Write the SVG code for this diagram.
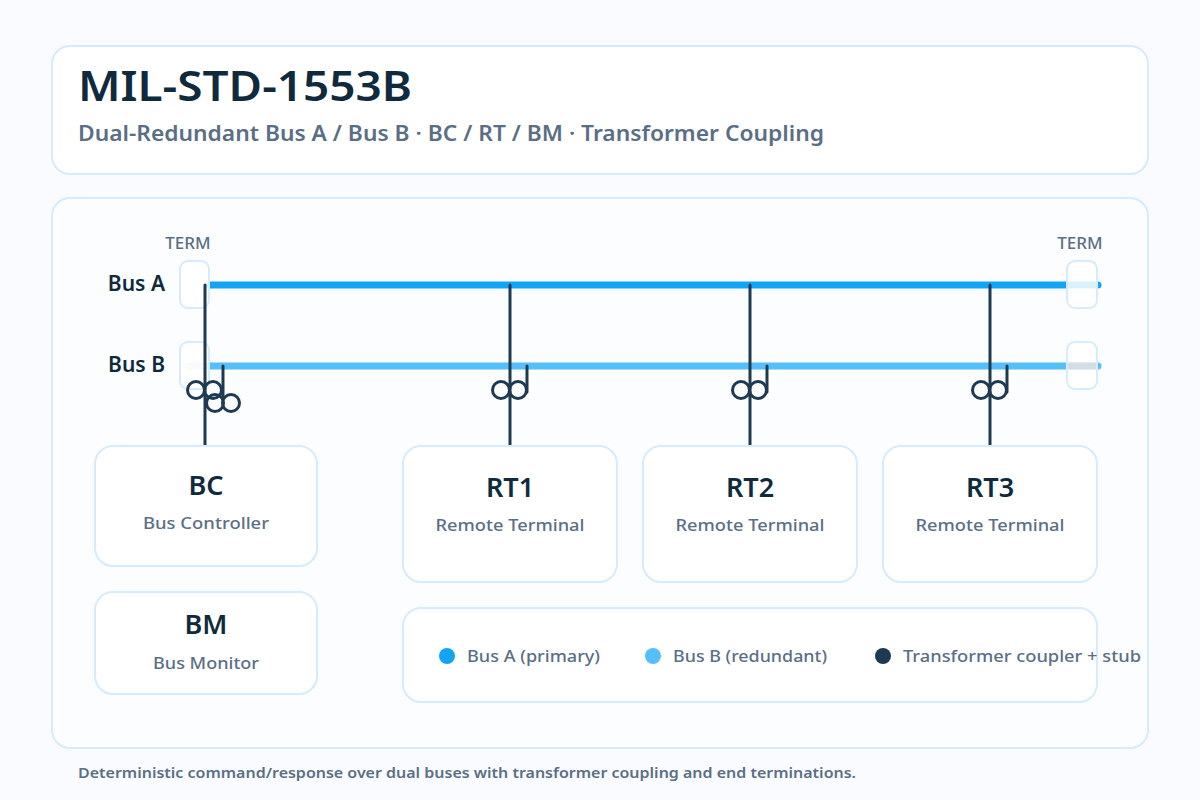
<svg xmlns="http://www.w3.org/2000/svg" width="1200" height="800" viewBox="0 0 1200 800">
<style>
.card{fill:#ffffff;stroke:#d6ebfb;stroke-width:2}
.t{font-family:"Noto Sans","Open Sans",sans-serif}
.nt{font-size:27px;font-weight:600;fill:#0f2a3d;text-anchor:middle}
.ns{font-size:17px;font-weight:500;fill:#5a6f86;text-anchor:middle}
.stub{stroke:#1e3a52;stroke-width:3;stroke-linecap:round;fill:none}
.term{fill:#ffffff;fill-opacity:0.85;stroke:#d6ebfb;stroke-width:2}
</style>
<rect width="1200" height="800" fill="#f9fbfe"/>
<g id="header">
<rect x="52" y="46" width="1096" height="128" rx="18" class="card"/>
<text x="78" y="101" class="t" font-size="42" font-weight="600" fill="#0f2a3d" textLength="334" lengthAdjust="spacingAndGlyphs">MIL-STD-1553B</text>
<text x="78" y="141" class="t" font-size="21" font-weight="600" fill="#5a6f86" textLength="746" lengthAdjust="spacingAndGlyphs">Dual-Redundant Bus A / Bus B · BC / RT / BM · Transformer Coupling</text>
</g>
<rect x="52" y="198" width="1096" height="550" rx="18" fill="#fcfdff" stroke="#d6ebfb" stroke-width="2"/>
<g id="buses">
<text x="188" y="249" class="t ns" font-size="16">TERM</text>
<text x="1080" y="249" class="t ns" font-size="16">TERM</text>
<text x="165" y="291" class="t" font-size="21" font-weight="600" fill="#0f2a3d" text-anchor="end">Bus A</text>
<text x="165" y="372" class="t" font-size="21" font-weight="600" fill="#0f2a3d" text-anchor="end">Bus B</text>
<line x1="209" y1="285" x2="1098" y2="285" stroke="#12a5f5" stroke-width="7" stroke-linecap="round"/>
<line x1="188" y1="366" x2="209" y2="366" stroke="#d3dde6" stroke-width="7" stroke-linecap="round"/>
<line x1="209" y1="366" x2="1098" y2="366" stroke="#55bff8" stroke-width="7" stroke-linecap="round"/>
<rect x="180" y="261" width="29" height="47" rx="8" class="term"/>
<rect x="180" y="342" width="29" height="47" rx="8" class="term"/>
<rect x="1067" y="261" width="30" height="47" rx="8" class="term"/>
<rect x="1067" y="342" width="30" height="47" rx="8" class="term"/>
<line x1="1068" y1="366" x2="1096" y2="366" stroke="#d3dde6" stroke-width="7"/>
</g>
<g id="connectors">
<line x1="205" y1="285" x2="205" y2="446" class="stub"/>
<line x1="223" y1="366" x2="223" y2="396" class="stub" stroke="#3d5468"/>
<circle cx="215" cy="403" r="8.5" class="stub" stroke="#4a6070"/>
<circle cx="231" cy="403" r="8.5" class="stub" stroke="#4a6070"/>
<circle cx="196" cy="390" r="8.5" class="stub"/>
<circle cx="213" cy="390" r="8.5" class="stub"/>
<line x1="510" y1="285" x2="510" y2="446" class="stub"/>
<line x1="527" y1="366" x2="527" y2="392" class="stub"/>
<circle cx="501" cy="390" r="8.5" class="stub"/>
<circle cx="518" cy="390" r="8.5" class="stub"/>
<line x1="750" y1="285" x2="750" y2="446" class="stub"/>
<line x1="767" y1="366" x2="767" y2="392" class="stub"/>
<circle cx="741" cy="390" r="8.5" class="stub"/>
<circle cx="758" cy="390" r="8.5" class="stub"/>
<line x1="990" y1="285" x2="990" y2="446" class="stub"/>
<line x1="1007" y1="366" x2="1007" y2="392" class="stub"/>
<circle cx="981" cy="390" r="8.5" class="stub"/>
<circle cx="998" cy="390" r="8.5" class="stub"/>
</g>
<g id="BC"><rect x="95" y="446" width="222" height="120" rx="18" class="card"/>
<text x="206" y="495" class="t nt">BC</text><text x="206" y="529" class="t ns" textLength="126" lengthAdjust="spacingAndGlyphs">Bus Controller</text></g>
<g id="RT1"><rect x="403" y="446" width="214" height="136" rx="18" class="card"/>
<text x="510" y="497" class="t nt">RT1</text><text x="510" y="531" class="t ns" textLength="149" lengthAdjust="spacingAndGlyphs">Remote Terminal</text></g>
<g id="RT2"><rect x="643" y="446" width="214" height="136" rx="18" class="card"/>
<text x="750" y="497" class="t nt">RT2</text><text x="750" y="531" class="t ns" textLength="149" lengthAdjust="spacingAndGlyphs">Remote Terminal</text></g>
<g id="RT3"><rect x="883" y="446" width="214" height="136" rx="18" class="card"/>
<text x="990" y="497" class="t nt">RT3</text><text x="990" y="531" class="t ns" textLength="149" lengthAdjust="spacingAndGlyphs">Remote Terminal</text></g>
<g id="BM"><rect x="95" y="592" width="222" height="102" rx="18" class="card"/>
<text x="206" y="634" class="t nt">BM</text><text x="206" y="669" class="t ns" textLength="106" lengthAdjust="spacingAndGlyphs">Bus Monitor</text></g>
<g id="legend"><rect x="403" y="608" width="694" height="94" rx="18" class="card"/>
<circle cx="447" cy="656" r="8" fill="#12a5f5"/><text x="467" y="662" class="t" font-size="17" font-weight="500" fill="#5a6f86" textLength="133" lengthAdjust="spacingAndGlyphs">Bus A (primary)</text>
<circle cx="653" cy="656" r="8" fill="#55bff8"/><text x="673" y="662" class="t" font-size="17" font-weight="500" fill="#5a6f86" textLength="154" lengthAdjust="spacingAndGlyphs">Bus B (redundant)</text>
<circle cx="883" cy="656" r="8" fill="#1e3a52"/><text x="903" y="662" class="t" font-size="17" font-weight="500" fill="#5a6f86" textLength="238" lengthAdjust="spacingAndGlyphs">Transformer coupler + stub</text></g>
<text x="78" y="778" class="t" font-size="14" font-weight="600" fill="#5a6f86" textLength="778" lengthAdjust="spacingAndGlyphs">Deterministic command/response over dual buses with transformer coupling and end terminations.</text>
</svg>
